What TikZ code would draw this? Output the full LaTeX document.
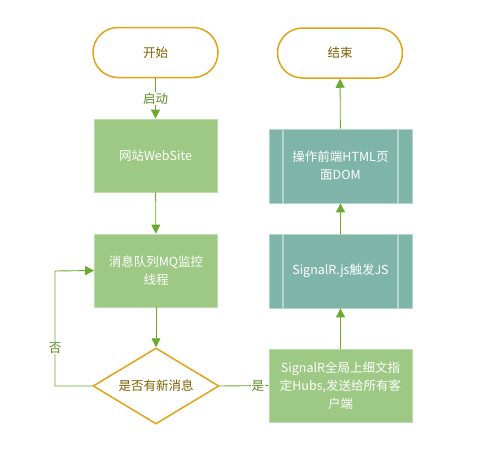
\documentclass[tikz,border=0pt]{standalone}
\usepackage{fontspec}
\setmainfont{Noto Sans CJK SC}
\usetikzlibrary{arrows.meta,shapes.geometric}
\definecolor{termline}{HTML}{E2A317}
\definecolor{termtext}{HTML}{7F6000}
\definecolor{gfill}{HTML}{9DC985}
\definecolor{gedge}{HTML}{BCDDAB}
\definecolor{tfill}{HTML}{7FB5A8}
\definecolor{tedge}{HTML}{B3D6CD}
\definecolor{arr}{HTML}{6BAA2E}
\definecolor{lbl}{HTML}{5A8C22}
\tikzset{
  txt/.style={font=\fontsize{12.5}{18}\selectfont},
  term/.style={txt, draw=termline, line width=1.5pt, fill=white, rounded corners=25pt,
     minimum width=125pt, minimum height=50pt, text=termtext, inner sep=0pt},
  gbox/.style={txt, draw=gedge, line width=0.8pt, fill=gfill, text=white, align=center,
     minimum width=123pt, minimum height=73pt, inner sep=0pt},
  tbox/.style={txt, draw=tedge, line width=0.8pt, fill=tfill, text=white, align=center,
     minimum width=143pt, minimum height=74pt, inner sep=0pt},
  dec/.style={txt, shape=diamond, aspect=1.66, draw=termline, line width=1.5pt, fill=white, text=termtext,
     minimum width=126pt, minimum height=76pt, inner sep=0pt},
  conn/.style={draw=arr, line width=0.9pt},
  flow/.style={conn, -{Triangle[width=9pt,length=9pt]}},
  lab/.style={txt, text=lbl, fill=white, inner sep=1pt}
}
\begin{document}
\begin{tikzpicture}[x=1pt,y=-1pt]
\useasboundingbox (0,0) rectangle (493,466);
\node[term] (start) at (155.5,52.5) {开始};
\node[gbox] (web) at (155.5,155.5) {网站WebSite};
\node[gbox] (mq) at (156,270.5) {消息队列MQ监控\\线程};
\node[dec] (d) at (156,386) {是否有新消息};
\node[term] (end) at (340,53) {结束};
\node[tbox] (html) at (340.5,166) {操作前端HTML页\\面DOM};
\node[tbox] (js) at (340.5,271) {SignalR.js触发JS};
\node[gbox, minimum width=143pt] (glob) at (340.5,385.5) {SignalR全局上细文指\\定Hubs,发送给所有客\\户端};
\foreach \b in {html,js}{
  \draw[draw=tedge, line width=2pt] ([xshift=14pt]\b.north west) -- ([xshift=14pt]\b.south west);
  \draw[draw=tedge, line width=2pt] ([xshift=-14pt]\b.north east) -- ([xshift=-14pt]\b.south east);
}
\coordinate (lc) at (55,386);
\coordinate (lt) at (55,271);
\draw[flow] (start) -- node[lab] {启动} (web);
\draw[flow] (web) -- (mq);
\draw[flow] (mq) -- (d);
\draw[flow] (d.west) -- (lc) -- node[lab, pos=0.33] {否} (lt) -- (mq.west);
\draw[conn] (d.east) -- node[lab, pos=0.78] {是} (glob.west);
\draw[flow] (glob) -- (js);
\draw[flow] (js) -- (html);
\draw[flow] (html) -- (end);
\end{tikzpicture}
\end{document}
